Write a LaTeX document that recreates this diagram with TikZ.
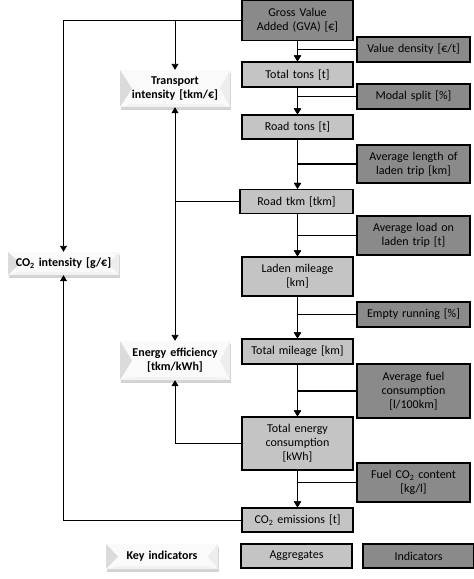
\documentclass[tikz,border=0pt]{standalone}
\usepackage{fontspec}
\setmainfont{Carlito}
\usetikzlibrary{arrows.meta,shadows}
\definecolor{darkbox}{RGB}{138,138,138}
\definecolor{lightbox}{RGB}{196,196,196}
\tikzset{
  aggbox/.style={draw=black, line width=1.2pt, fill=lightbox, align=center, inner sep=1pt,
     minimum width=111pt, text width=105pt, font=\fontsize{12}{14}\selectfont},
  indbox/.style={draw=black, line width=1.2pt, fill=darkbox, align=center, inner sep=1pt,
     minimum width=113pt, text width=107pt, font=\fontsize{12}{14}\selectfont},
  keybox/.style={fill=gray!4, align=center, inner sep=1pt, minimum width=110pt, text width=104pt,
     font=\fontsize{12}{14}\selectfont\bfseries,
     drop shadow={shadow xshift=1pt, shadow yshift=-2.5pt, opacity=0.35},
     path picture={
       \fill[gray!28] (path picture bounding box.north west) -- ([xshift=12pt]path picture bounding box.west) -- (path picture bounding box.south west) -- cycle;
       \fill[gray!14] (path picture bounding box.north east) -- ([xshift=-10pt]path picture bounding box.east) -- (path picture bounding box.south east) -- cycle;
       \fill[gray!10] (path picture bounding box.south west) -- ([xshift=12pt,yshift=3pt]path picture bounding box.south west) -- ([xshift=-10pt,yshift=3pt]path picture bounding box.south east) -- (path picture bounding box.south east) -- cycle;
     }},
  conn/.style={line width=0.9pt},
  arr/.style={line width=1.3pt, -{Triangle[length=6pt,width=7pt]}},
  thinarr/.style={line width=0.9pt, -{Triangle[length=6pt,width=7pt]}},
}
\begin{document}
\begin{tikzpicture}[x=1pt,y=-1pt]
\useasboundingbox (0,0) rectangle (474,579);
% aggregates (main chain)
\node[aggbox, fill=darkbox, minimum height=40pt] (gva) at (297.5,20.5) {Gross Value\\Added (GVA) [€]};
\node[aggbox, minimum height=25pt] (tt) at (297.5,74.5) {Total tons [t]};
\node[aggbox, minimum height=24pt] (rt) at (297.5,127) {Road tons [t]};
\node[aggbox, minimum height=24pt, minimum width=113pt] (rtkm) at (296.5,201.5) {Road tkm [tkm]};
\node[aggbox, minimum height=39pt] (lm) at (297.5,276.5) {Laden mileage\\{}[km]};
\node[aggbox, minimum height=25pt] (tm) at (297.5,351.5) {Total mileage [km]};
\node[aggbox, minimum height=53pt] (tec) at (297.5,443.5) {Total energy\\consumption\\{}[kWh]};
\node[aggbox, minimum height=24pt] (co2e) at (297.5,520) {CO\textsubscript{2} emissions [t]};
% indicators
\node[indbox, minimum height=25pt] (vd) at (413.5,49.5) {Value density [€/t]};
\node[indbox, minimum height=25pt] (ms) at (413.5,96.5) {Modal split [\%]};
\node[indbox, minimum height=38pt] (alt) at (413.5,164) {Average length of\\laden trip [km]};
\node[indbox, minimum height=39pt] (alo) at (413.5,235.5) {Average load on\\laden trip [t]};
\node[indbox, minimum height=25pt] (er) at (413.5,314.5) {Empty running [\%]};
\node[indbox, minimum height=54pt] (afc) at (413.5,391) {Average fuel\\consumption\\{}[l/100km]};
\node[indbox, minimum height=39pt] (fco) at (413.5,482.5) {Fuel CO\textsubscript{2} content\\{}[kg/l]};
% key indicators
\node[keybox, minimum height=37pt] (ti) at (175,88.5) {Transport\\intensity [tkm/€]};
\node[keybox, minimum height=23pt, minimum width=111pt] (ci) at (63.5,263.5) {CO\textsubscript{2} intensity [g/€]};
\node[keybox, minimum height=39pt] (ee) at (175,360.5) {Energy efficiency\\{}[tkm/kWh]};
% legend
\node[keybox, minimum height=25pt, minimum width=112pt] (ki) at (162,556.5) {Key indicators};
\node[aggbox, minimum height=24pt] (agg) at (296.5,556) {Aggregates};
\node[indbox, minimum height=24pt, minimum width=111pt, text width=105pt] (ind) at (418.5,556) {Indicators};
% junction coordinates
\coordinate (j1) at (ti.north |- gva.west);
\coordinate (j2) at (ti.south |- rtkm.west);
% main chain
\draw[thinarr] (gva) -- (tt);
\draw[thinarr] (tt) -- (rt);
\draw[thinarr] (rt) -- (rt.south |- rtkm.north);
\draw[thinarr] (rtkm.south -| lm.north) -- (lm);
\draw[thinarr] (lm) -- (tm);
\draw[thinarr] (tm) -- (tec);
\draw[thinarr] (tec) -- (co2e);
% side inputs
\draw[arr] (vd.west) -| (tt.north);
\draw[arr] (ms.west) -| (rt.north);
\draw[arr] (alt.west) -| (rt.south |- rtkm.north);
\draw[arr] (alo.west) -| (lm.north);
\draw[arr] (er.west) -| (tm.north);
\draw[arr] (afc.west) -| (tec.north);
\draw[arr] (fco.west) -| (co2e.north);
% key indicator links
\draw[conn] (gva.west) -- (j1);
\draw[thinarr] (j1) -| (ci.north);
\draw[thinarr] (j1) -- (ti.north);
\draw[conn] (rtkm.west) -- (j2);
\draw[thinarr] (j2) -- (ti.south);
\draw[thinarr] (j2) -- (ee.north);
\draw[thinarr] (tec.west) -| (ee.south);
\draw[thinarr] (co2e.west) -| (ci.south);
\end{tikzpicture}
\end{document}
